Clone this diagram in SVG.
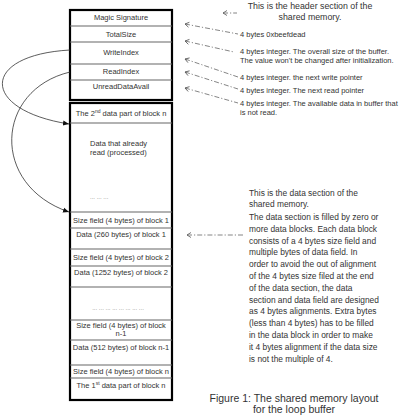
<svg xmlns="http://www.w3.org/2000/svg" width="400" height="416" viewBox="0 0 400 416">
<defs>
<style>
text{font-family:"Liberation Sans",Arial,sans-serif;fill:#333}
.box{fill:#fff;stroke:#000;stroke-width:2.2}
.sep{stroke:#666;stroke-width:1.2}
.bt{font-size:7.5px;text-anchor:middle}
.rt{font-size:7.5px}
.para{font-size:8.4px}
.dd{fill:none;stroke:#666;stroke-width:0.8;stroke-dasharray:5 2 1.2 2;marker-start:url(#open)}
.cv{fill:none;stroke:#333;stroke-width:0.8;marker-end:url(#fill)}
</style>
<marker id="open" markerWidth="8" markerHeight="8" refX="0" refY="4" orient="auto" markerUnits="userSpaceOnUse" overflow="visible">
<path d="M4,1.5 L0,4 L4,6.5" fill="none" stroke="#555" stroke-width="0.8"/>
</marker>
<marker id="fill" markerWidth="8" markerHeight="8" refX="6" refY="3" orient="auto" markerUnits="userSpaceOnUse">
<path d="M0,0.5 L6,3 L0,5.5 Z" fill="#111"/>
</marker>
</defs>
<rect width="400" height="416" fill="#fff"/>

<g id="header">
<rect class="box" x="70" y="10" width="102" height="90"/>
<line class="sep" x1="70" y1="26" x2="172" y2="26"/>
<line class="sep" x1="70" y1="42" x2="172" y2="42"/>
<line class="sep" x1="70" y1="64" x2="172" y2="64"/>
<line class="sep" x1="70" y1="80" x2="172" y2="80"/>
<text class="bt" x="121" y="20">Magic Signature</text>
<text class="bt" x="121" y="36.5">TotalSize</text>
<text class="bt" x="121" y="55">WriteIndex</text>
<text class="bt" x="121" y="73.7">ReadIndex</text>
<text class="bt" x="121" y="88.7">UnreadDataAvail</text>
</g>

<g id="data">
<rect class="box" x="70" y="103" width="102" height="297"/>
<line class="sep" x1="70" y1="123" x2="172" y2="123"/>
<line class="sep" x1="70" y1="212" x2="172" y2="212"/>
<line class="sep" x1="70" y1="228" x2="172" y2="228"/>
<line class="sep" x1="70" y1="249" x2="172" y2="249"/>
<line class="sep" x1="70" y1="266" x2="172" y2="266"/>
<line class="sep" x1="70" y1="287" x2="172" y2="287"/>
<line class="sep" x1="70" y1="320" x2="172" y2="320"/>
<line class="sep" x1="70" y1="340" x2="172" y2="340"/>
<line class="sep" x1="70" y1="365" x2="172" y2="365"/>
<line class="sep" x1="70" y1="378" x2="172" y2="378"/>
<text class="bt" x="121" y="115.7">The 2<tspan font-size="5" dy="-3">nd</tspan><tspan dy="3"> data part of block n</tspan></text>
<text style="font-size:7.5px" x="90" y="146">Data that already</text>
<text style="font-size:7.5px" x="90" y="155">read (processed)</text>
<text style="font-size:6px;fill:#777" x="90" y="199">... ... ...</text>
<text class="bt" x="121" y="222.7">Size field (4 bytes) of block 1</text>
<text class="bt" x="121" y="236.7">Data (260 bytes) of block 1</text>
<text class="bt" x="121" y="259.7">Size field (4 bytes) of block 2</text>
<text class="bt" x="121" y="274.7">Data (1252 bytes) of block 2</text>
<text style="font-size:6px;fill:#777;text-anchor:middle" x="118" y="310">... ... ... ... ... ... ... ...</text>
<text class="bt" x="121" y="327.5">Size field (4 bytes) of block</text>
<text class="bt" x="121" y="336.3">n-1</text>
<text class="bt" x="121" y="349.7">Data (512 bytes) of block n-1</text>
<text class="bt" x="121" y="373.7">Size field (4 bytes) of block n</text>
<text class="bt" x="121" y="387.7">The 1<tspan font-size="5" dy="-3">st</tspan><tspan dy="3"> data part of block n</tspan></text>
</g>

<g id="connectors">
<path class="cv" d="M70,50 C-20,55 -20,110 69,124"/>
<path class="cv" d="M70,72 C-5,90 -10,185 69,212"/>
<line class="dd" x1="223" y1="13" x2="237" y2="13"/>
<line class="dd" x1="185" y1="24" x2="238" y2="34"/>
<line class="dd" x1="185" y1="41" x2="234" y2="52"/>
<line class="dd" x1="185" y1="59" x2="238" y2="77"/>
<line class="dd" x1="185" y1="72" x2="238" y2="89"/>
<line class="dd" x1="185" y1="88" x2="238" y2="103"/>
<line class="dd" x1="187" y1="235" x2="243" y2="235"/>
</g>

<g id="notes">
<text style="font-size:8.8px;text-anchor:middle" x="310" y="9">This is the header section of the</text>
<text style="font-size:8.8px;text-anchor:middle" x="310" y="19.5">shared memory.</text>
<text class="rt" x="240" y="36.5">4 bytes 0xbeefdead</text>
<text class="rt" x="240" y="54">4 bytes integer. The overall size of the buffer.</text>
<text class="rt" x="240" y="62.5">The value  won't be changed after initialization.</text>
<text class="rt" x="240" y="79.7">4 bytes integer. the next write pointer</text>
<text class="rt" x="240" y="92.5">4 bytes integer. The next read pointer</text>
<text class="rt" x="240" y="105.5">4 bytes integer. The available data in buffer that</text>
<text class="rt" x="240" y="114.5">is not read.</text>
<text class="para" x="249" y="196">This is the data section of the</text>
<text class="para" x="249" y="207">shared memory.</text>
<text class="para" x="249" y="220">The data section is filled by zero or</text>
<text class="para" x="249" y="231.8">more data blocks. Each data block</text>
<text class="para" x="249" y="243.6">consists of a 4 bytes size field and</text>
<text class="para" x="249" y="255.4">multiple bytes of data field. In</text>
<text class="para" x="249" y="267.2">order to avoid the out of alignment</text>
<text class="para" x="249" y="279">of the 4 bytes size filed at the end</text>
<text class="para" x="249" y="290.8">of the data section, the data</text>
<text class="para" x="249" y="302.6">section and data field are designed</text>
<text class="para" x="249" y="314.4">as 4 bytes alignments. Extra bytes</text>
<text class="para" x="249" y="326.2">(less than 4 bytes) has to be filled</text>
<text class="para" x="249" y="338">in the data block in order to make</text>
<text class="para" x="249" y="349.8">it 4 bytes alignment if the data size</text>
<text class="para" x="249" y="361.6">is not the multiple of 4.</text>
<text style="font-size:10.5px;text-anchor:middle" x="294" y="402">Figure 1: The shared memory layout</text>
<text style="font-size:10.5px;text-anchor:middle" x="294" y="413">for the loop buffer</text>
</g>
</svg>
